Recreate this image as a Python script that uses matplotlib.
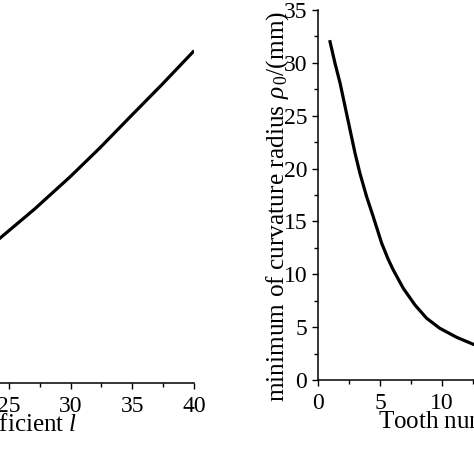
import numpy as np
import matplotlib
matplotlib.use("Agg")
import matplotlib.pyplot as plt
from matplotlib.ticker import MultipleLocator

plt.rcParams['font.family'] = ['Liberation Serif', 'DejaVu Serif']
plt.rcParams['mathtext.fontset'] = 'custom'
plt.rcParams['mathtext.rm'] = 'Liberation Serif'
plt.rcParams['mathtext.it'] = 'Liberation Serif:italic'

# Left panel: curvature radius vs coefficient l
coef_l = [22.5, 24.27, 27.1, 29.97, 32.37, 34.97, 37.4, 39.93]
rho_l = [11.9, 13.57, 16.33, 19.35, 22.05, 25.14, 28.0, 31.08]

# Right panel: minimum curvature radius vs tooth number
teeth = [0.99, 1.39, 1.80, 2.20, 2.60, 3.00, 3.39, 3.93, 4.46, 5.14, 5.67,
         6.07, 6.87, 7.81, 8.75, 9.81, 11.16, 12.49, 14.0]
rho_min = [32.0, 29.96, 28.07, 25.86, 23.65, 21.45, 19.56, 17.34, 15.45,
           12.93, 11.4, 10.41, 8.68, 7.10, 5.84, 4.89, 4.04, 3.38, 2.8]

fig = plt.figure(figsize=(4.74, 4.74), dpi=100)

W = 474.0
ax1 = fig.add_axes([-300 / W, 91 / W, 494 / W, 373 / W])
ax2 = fig.add_axes([317.7 / W, 94 / W, 249 / W, 370 / W])


def style(ax):
    for side in ['top', 'right']:
        ax.spines[side].set_visible(False)
    for side in ['left', 'bottom']:
        ax.spines[side].set_linewidth(1.1)
    ax.tick_params(which='major', direction='out', length=4.5, width=1.0,
                   labelsize=17, pad=3)
    ax.tick_params(which='minor', direction='out', length=3, width=1.0)
    ax.tick_params(axis='x', which='major', pad=5)


# left plot
ax1.plot(coef_l, rho_l, color='black', lw=2.3)
ax1.set_xlim(0, 40)
ax1.set_ylim(0, 35)
ax1.xaxis.set_major_locator(MultipleLocator(5))
ax1.xaxis.set_minor_locator(MultipleLocator(2.5))
ax1.yaxis.set_major_locator(MultipleLocator(5))
ax1.yaxis.set_minor_locator(MultipleLocator(2.5))
style(ax1)
ax1.set_xlabel("Modification coefficient $\\it{l}$", fontsize=18)
ax1.xaxis.label.set_ha('right')
ax1.xaxis.set_label_coords(0.763, -0.083)

# right plot
ax2.plot(teeth, rho_min, color='black', lw=2.3)
ax2.set_xlim(0, 20)
ax2.set_ylim(0, 35)
ax2.xaxis.set_major_locator(MultipleLocator(5))
ax2.xaxis.set_minor_locator(MultipleLocator(2.5))
ax2.yaxis.set_major_locator(MultipleLocator(5))
ax2.yaxis.set_minor_locator(MultipleLocator(2.5))
style(ax2)
ax2.set_xlabel("Tooth number $\\it{z}$", fontsize=18)
ax2.xaxis.label.set_ha('left')
ax2.xaxis.set_label_coords(0.242, -0.083)
ax2.set_ylabel("minimum of curvature radius $\\rho_{\\,0}$/(mm)", fontsize=18.3)
ax2.yaxis.set_label_coords(-0.107, 0.468)

fig.savefig("out.png", dpi=100)
